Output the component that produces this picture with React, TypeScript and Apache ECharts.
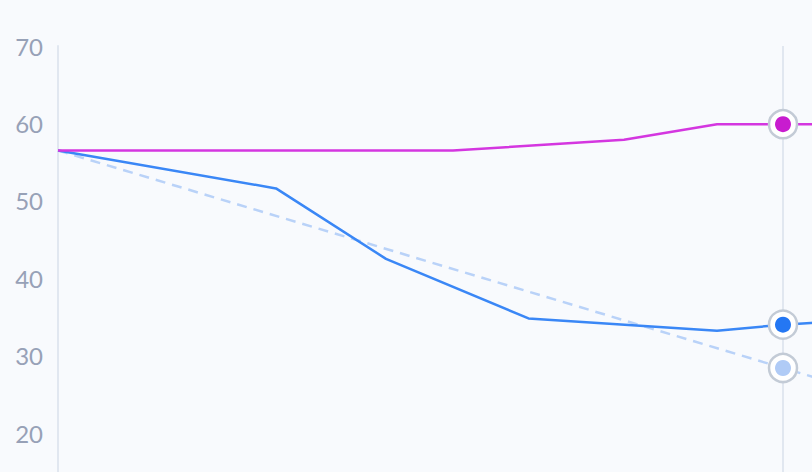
import React, { useEffect, useRef } from 'react';
import * as echarts from 'echarts';

// x positions are in tenths of the chart's time step
const actualX = [0, 21.8, 32.8, 47.05, 65.9, 72.5, 80];
const actualY = [56.5, 51.6, 42.5, 34.8, 33.2, 34.0, 34.6];

const targetX = [0, 39.5, 56.6, 65.9, 72.5, 80];
const targetY = [56.5, 56.5, 57.9, 59.9, 59.9, 59.9];

const trendX = [0, 72.5, 80];
const trendY = [56.5, 28.4, 25.5];

const yTicks = [10, 20, 30, 40, 50, 60, 70];
const selectedX = 72.5;

const zip = (xs: number[], ys: number[]) => xs.map((x, i) => [x, ys[i]]);
const pick = (xs: number[], ys: number[]) => [[selectedX, ys[xs.indexOf(selectedX)]]];

const BLUE = '#3a87f6';
const BLUE_DOT = '#2477f3';
const MAGENTA = '#d436e0';
const MAGENTA_DOT = '#c81ccf';
const PALE = '#b9d2f8';
const PALE_DOT = '#b0cbf6';
const GRID_LINE = '#e1e7f0';

const dot = (data: number[][], color: string) => [
  {
    type: 'scatter',
    data,
    symbolSize: 28,
    silent: true,
    z: 5,
    itemStyle: { color: '#ffffff', borderColor: '#c3cbd6', borderWidth: 2.5, opacity: 1 },
  },
  {
    type: 'scatter',
    data,
    symbolSize: 16,
    silent: true,
    z: 6,
    itemStyle: { color, opacity: 1 },
  },
];

const App: React.FC = () => {
  const chartRef = useRef<HTMLDivElement>(null);

  useEffect(() => {
    const chart = echarts.init(chartRef.current!, null, { renderer: 'svg' });

    const options = {
      animation: false,
      backgroundColor: '#f8fafd',
      grid: { left: 58, top: 46, width: 800, height: 464.4 },
      xAxis: {
        type: 'value',
        min: 0,
        max: 80,
        show: false,
      },
      yAxis: {
        type: 'value',
        min: yTicks[0],
        max: yTicks[yTicks.length - 1],
        interval: 10,
        axisLine: { show: true, lineStyle: { color: GRID_LINE, width: 2 } },
        axisTick: { show: false },
        splitLine: { show: false },
        axisLabel: {
          margin: 15,
          showMinLabel: false,
          color: '#97a1b7',
          fontSize: 24,
          fontFamily: 'Lato',
          fontWeight: 'normal',
        },
      },
      series: [
        {
          type: 'line',
          data: zip(trendX, trendY),
          showSymbol: false,
          silent: true,
          lineStyle: { color: PALE, width: 2.5, type: [10, 7] },
          markLine: {
            silent: true,
            symbol: 'none',
            label: { show: false },
            lineStyle: { color: GRID_LINE, width: 2, type: 'solid' },
            data: [{ xAxis: selectedX }],
          },
        },
        {
          type: 'line',
          data: zip(actualX, actualY),
          showSymbol: false,
          silent: true,
          lineStyle: { color: BLUE, width: 2.5 },
        },
        {
          type: 'line',
          data: zip(targetX, targetY),
          showSymbol: false,
          silent: true,
          lineStyle: { color: MAGENTA, width: 2.5 },
        },
        ...dot(pick(targetX, targetY), MAGENTA_DOT),
        ...dot(pick(actualX, actualY), BLUE_DOT),
        ...dot(pick(trendX, trendY), PALE_DOT),
      ],
    };

    chart.setOption(options);

    return () => {
      chart.dispose();
    };
  }, []);

  return (
    <div
      ref={chartRef}
      style={{ position: 'fixed', left: 0, top: 0, width: '860px', height: '520px' }}
    />
  );
};

export default App;
